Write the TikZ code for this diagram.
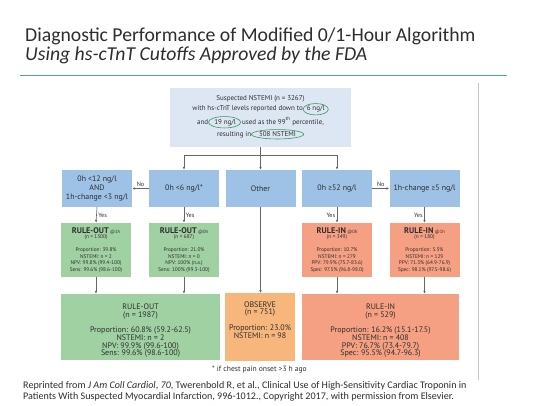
\documentclass[tikz,border=0pt]{standalone}
\usepackage{fontspec}
\setmainfont{Carlito}
\newfontfamily\boxfont{PT Sans}
\usepackage{tikz}
\usetikzlibrary{arrows.meta,shapes.geometric}

\definecolor{topblue}{RGB}{221,231,244}
\definecolor{condblue}{RGB}{157,194,230}
\definecolor{outgreen}{RGB}{160,209,162}
\definecolor{ingold}{RGB}{247,182,124}
\definecolor{inred}{RGB}{245,160,130}
\definecolor{ringgreen}{RGB}{60,150,90}
\definecolor{rulecolor}{RGB}{84,160,168}
\definecolor{textgray}{RGB}{45,45,45}

\newcommand\ringed[1]{\tikz[baseline=(r.base)]\node[ellipse,draw=ringgreen,fill=none,line width=0.6pt,minimum width=0pt,minimum height=0pt,inner xsep=0pt,inner ysep=0.8pt,outer sep=0pt](r){#1};}
\newcommand\atstep[1]{{\fontsize{4.6}{4}\selectfont\mdseries #1}}
\newcommand\atleast{{\rmfamily ≥}}

\begin{document}
\begin{tikzpicture}[x=1pt,y=1pt,>={Latex[length=3pt,width=2.6pt]},
  box/.style={align=center,inner sep=1pt,text=textgray},
  cond/.style={box,fill=condblue,minimum width=70pt,minimum height=37pt,font=\boxfont\fontsize{7.9}{8.6}\selectfont},
  small/.style={box,minimum width=70pt,minimum height=54pt,font=\boxfont\fontsize{5.3}{6.4}\selectfont},
  big/.style={box,minimum height=66pt,font=\boxfont\fontsize{8}{7.6}\selectfont},
  link/.style={draw=gray!80!black,line width=0.6pt},
  tag/.style={font=\boxfont\fontsize{6.2}{6}\selectfont,text=textgray,inner sep=1.5pt}]
  \useasboundingbox (0,0) rectangle (540,405);

  \node[anchor=base west,inner sep=0,text=textgray,font=\fontsize{19.7}{22}\selectfont] (title) at (25,363) {Diagnostic Performance of Modified 0/1-Hour Algorithm};
  \node[anchor=base west,inner sep=0,text=textgray,font=\fontsize{19.7}{22}\selectfont\itshape] (subtitle) at (25,344) {Using hs-cTnT Cutoffs Approved by the FDA};
  \draw[rulecolor,line width=1pt] (20,329) -- (507,329);
  \draw[gray!45,line width=1.2pt] (478.5,322) -- (478.5,25);

  \node[box,fill=topblue,minimum width=181pt,minimum height=59pt,font=\boxfont\fontsize{7}{9.3}\selectfont] (start) at (260.5,287.5)
    {Suspected NSTEMI (n = 3267)\\[1pt]
     with hs-cTnT levels reported down to\ringed{6 ng/l}\\
     and\ringed{\,19 ng/l}\,used as the 99\textsuperscript{th} percentile,\\
     resulting in\ringed{508 NSTEMI}};

  \node[cond] (lowboth) at (97,216.5) {0h <12 ng/l\\AND\\1h-change <3 ng/l};
  \node[cond] (lowzero) at (184,216.5) {0h <6 ng/l*};
  \node[cond] (other) at (260.5,216.5) {Other};
  \node[cond] (highzero) at (337,216.5) {0h \atleast52 ng/l};
  \node[cond] (deltaone) at (424.5,216.5) {1h-change \atleast5 ng/l};

  \node[small,fill=outgreen] (outone) at (96,155)
    {{\fontsize{8.2}{8}\selectfont\bfseries RULE-OUT} \atstep{@1h}\\[-1.5pt](n = 1300)\\[7pt]
     Proportion: 39.8\%\\NSTEMI: n = 2\\NPV: 99.8\% (99.4-100)\\Sens: 99.6\% (98.6-100)};
  \node[small,fill=outgreen] (outzero) at (184,155)
    {{\fontsize{8.2}{8}\selectfont\bfseries RULE-OUT} \atstep{@0h}\\[-1.5pt](n = 687)\\[7pt]
     Proportion: 21.0\%\\NSTEMI: n = 0\\NPV: 100\% (n.a.)\\Sens: 100\% (99.3-100)};
  \node[small,fill=inred] (inzero) at (337,155)
    {{\fontsize{8.2}{8}\selectfont\bfseries RULE-IN} \atstep{@0h}\\[-1.5pt](n = 349)\\[7pt]
     Proportion: 10.7\%\\NSTEMI: n = 279\\PPV: 79.9\% (75.7-83.6)\\Spec: 97.5\% (96.8-98.0)};
  \node[small,fill=inred] (inone) at (424.5,155)
    {{\fontsize{8.2}{8}\selectfont\bfseries RULE-IN} \atstep{@1h}\\[-1.5pt](n = 180)\\[7pt]
     Proportion: 5.5\%\\NSTEMI: n = 129\\PPV: 71.3\% (64.9-76.9)\\Spec: 98.1\% (97.5-98.6)};

  \node[big,fill=outgreen,minimum width=159pt] (ruleout) at (140.5,78)
    {\rule{0pt}{13pt}RULE-OUT\\(n = 1987)\\[8pt]
     Proportion: 60.8\% (59.2-62.5)\\NSTEMI: n = 2\\NPV: 99.9\% (99.6-100)\\Sens: 99.6\% (98.6-100)};
  \node[big,fill=ingold,minimum width=70pt] (observe) at (260,78)
    {\rule{0pt}{13pt}OBSERVE\\(n = 751)\\[8pt]
     Proportion: 23.0\%\\NSTEMI: n = 98\\[14pt]};
  \node[big,fill=inred,minimum width=157pt] (rulein) at (380.5,78)
    {\rule{0pt}{13pt}RULE-IN\\(n = 529)\\[8pt]
     Proportion: 16.2\% (15.1-17.5)\\NSTEMI: n = 408\\PPV: 76.7\% (73.4-79.7)\\Spec: 95.5\% (94.7-96.3)};

  \coordinate (split) at (260.5,250);
  \draw[link] (start.south) -- (split);
  \draw[link,->] (split) -| (lowzero.north);
  \draw[link,->] (split) -- (other.north);
  \draw[link,->] (split) -| (highzero.north);

  \draw[link,->] (lowzero.west) -- node[tag,above]{No} (lowboth.east);
  \draw[link,->] (highzero.east) -- node[tag,above]{No} (deltaone.west);

  \draw[link,->] (lowboth.south) -- node[tag,right]{Yes} (outone.north);
  \draw[link,->] (lowzero.south) -- node[tag,right]{Yes} (outzero.north);
  \draw[link,->] (highzero.south) -- node[tag,left]{Yes} (inzero.north);
  \draw[link,->] (deltaone.south) -- node[tag,left]{Yes} (inone.north);

  \draw[link,->] (outone.south) -- (outone.south |- ruleout.north);
  \draw[link,->] (outzero.south) -- (outzero.south |- ruleout.north);
  \draw[link,->] (other.south) -- (other.south |- observe.north);
  \draw[link,->] (inzero.south) -- (inzero.south |- rulein.north);
  \draw[link,->] (inone.south) -- (inone.south |- rulein.north);

  \node[anchor=base east,inner sep=0,text=textgray,font=\boxfont\fontsize{7.6}{8}\selectfont] (note) at (307,34) {* if chest pain onset >3 h ago};
  \node[anchor=base west,inner sep=0,text=textgray,font=\fontsize{10.1}{11}\selectfont] (cite) at (23,17)
    {Reprinted from \textit{J Am Coll Cardiol}, \textit{70}, Twerenbold R, et al., Clinical Use of High-Sensitivity Cardiac Troponin in};
  \node[anchor=base west,inner sep=0,text=textgray,font=\fontsize{10.1}{11}\selectfont] (citetwo) at (23,6)
    {Patients With Suspected Myocardial Infarction, 996-1012., Copyright 2017, with permission from Elsevier.};
\end{tikzpicture}
\end{document}
